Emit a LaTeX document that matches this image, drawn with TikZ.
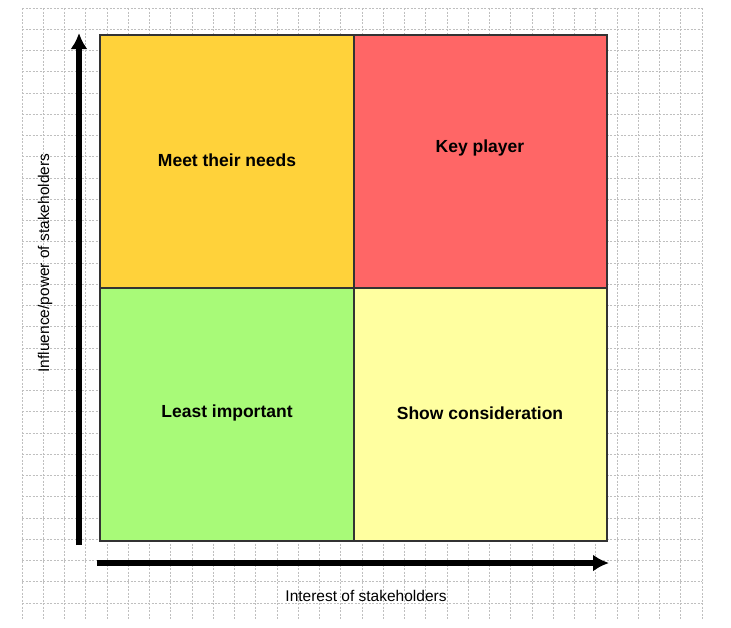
\documentclass[tikz,border=0pt]{standalone}
\usepackage{fontspec}
\setmainfont{Liberation Sans}
\usetikzlibrary{arrows.meta}
\begin{document}
\begin{tikzpicture}[x=1pt,y=-1pt,
 quad/.style={draw=black!80,line width=1.3pt},
 lab/.style={font=\bfseries\fontsize{17.5}{20}\selectfont},
 axis/.style={line width=5.5pt,-{Latex[length=16pt,width=17pt]}},
 axl/.style={font=\fontsize{15.5}{18}\selectfont}]
\useasboundingbox (0,0) rectangle (731,627);
\fill[white] (0,0) rectangle (731,627);
\foreach \i in {0,...,32} {
 \draw[gray!50,dash pattern=on 2pt off 1.5pt,line width=0.6pt] (22+\i*21.25,8) -- (22+\i*21.25,620);}
\foreach \j in {0,...,28} {
 \draw[gray!50,dash pattern=on 2pt off 1.5pt,line width=0.6pt] (22,8+\j*21.25) -- (702,8+\j*21.25);}
\filldraw[quad,fill={rgb,255:red,255;green,210;blue,58}] (100,35) rectangle (354,288);
\filldraw[quad,fill={rgb,255:red,255;green,102;blue,102}] (354,35) rectangle (607,288);
\filldraw[quad,fill={rgb,255:red,168;green,250;blue,120}] (100,288) rectangle (354,541);
\filldraw[quad,fill={rgb,255:red,255;green,255;blue,160}] (354,288) rectangle (607,541);
\node[lab] (a) at (227,160) {Meet their needs};
\node[lab] (b) at (480,148) {Key player};
\node[lab] (c) at (227,413) {Least important};
\node[lab] (d) at (480,413) {Show consideration};
\coordinate (ys) at (79,545); \coordinate (ye) at (79,33);
\coordinate (xs) at (97,563); \coordinate (xe) at (609,563);
\draw[axis] (ys) -- (ye);
\draw[axis] (xs) -- (xe);
\node[axl,rotate=90] (yl) at (45,263) {Influence/power of stakeholders};
\node[axl] (xl) at (366,596) {Interest of stakeholders};
\end{tikzpicture}
\end{document}
